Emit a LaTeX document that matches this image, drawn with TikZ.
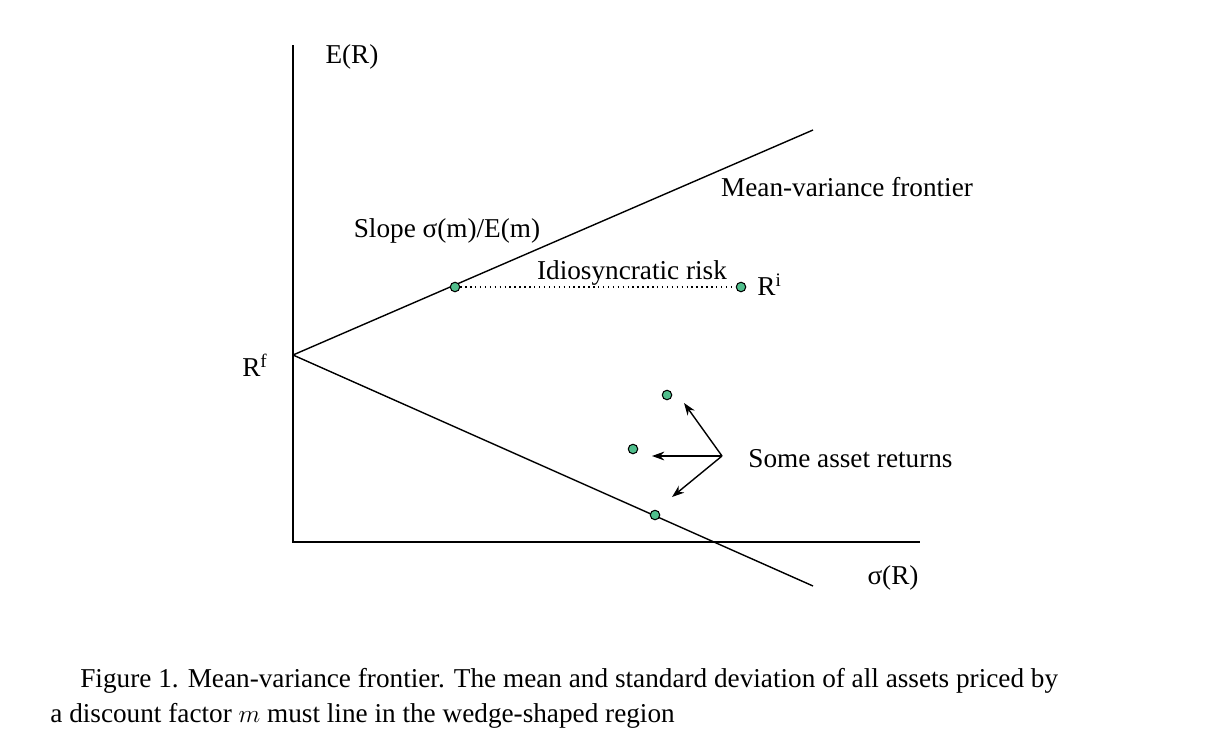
\documentclass[tikz,border=0pt]{standalone}
\usepackage{fontspec}
\setmainfont{Liberation Serif}
\usetikzlibrary{arrows.meta}
\begin{document}
\begin{tikzpicture}[x=0.02cm,y=-0.02cm,
  dot/.style={circle,draw=black,fill={rgb,255:red,80;green,190;blue,140},inner sep=0pt,minimum size=9pt*0.6,line width=0.6pt},
  lbl/.style={font=\fontsize{15.5}{18}\selectfont,inner sep=0pt},
  ln/.style={line width=0.8pt},
  arr/.style={line width=0.8pt,-{Stealth[length=7pt,width=5pt]}}]
\useasboundingbox (0,0) rectangle (1206,744);
\coordinate (ytop) at (293,45);
\coordinate (o) at (293,542);
\coordinate (xend) at (920,542);
\coordinate (rf) at (293,355);
\coordinate (up) at (813,130);
\coordinate (lo) at (813,586);
\draw[ln] (ytop) -- (o) -- (xend);
\draw[ln] (rf) -- (up);
\draw[ln] (rf) -- (lo);
\node[dot] (p1) at (455,287) {};
\node[dot] (p2) at (741,287) {};
\node[dot] (a1) at (667,395) {};
\node[dot] (a2) at (633,449) {};
\node[dot] (a3) at (655,515) {};
\draw[dotted,line width=0.8pt] (p1) -- (p2);
\coordinate (src) at (722,456);
\draw[arr] (src) -- (684,403);
\draw[arr] (src) -- (652,456);
\draw[arr] (src) -- (672,497);
\node[lbl] (ER) at (352,57) {E(R)};
\node[lbl] (RF) at (255,365) {R\textsuperscript{f}};
\node[lbl] (mvf) at (847,187) {Mean-variance frontier};
\node[lbl] (slope) at (447,231) {Slope σ(m)/E(m)};
\node[lbl] (idio) at (632,273) {Idiosyncratic risk};
\node[lbl,anchor=west] (Ri) at (757,285) {R\textsuperscript{i}};
\node[lbl,anchor=west] (some) at (748,459) {Some asset returns};
\node[lbl] (sig) at (893,578) {σ(R)};
\node[lbl,anchor=west] (cap1) at (80,681) {Figure 1. Mean-variance frontier. The mean and standard deviation of all assets priced by};
\node[lbl,anchor=west] (cap2) at (50,716) {a discount factor $m$ must line in the wedge-shaped region};
\end{tikzpicture}
\end{document}
